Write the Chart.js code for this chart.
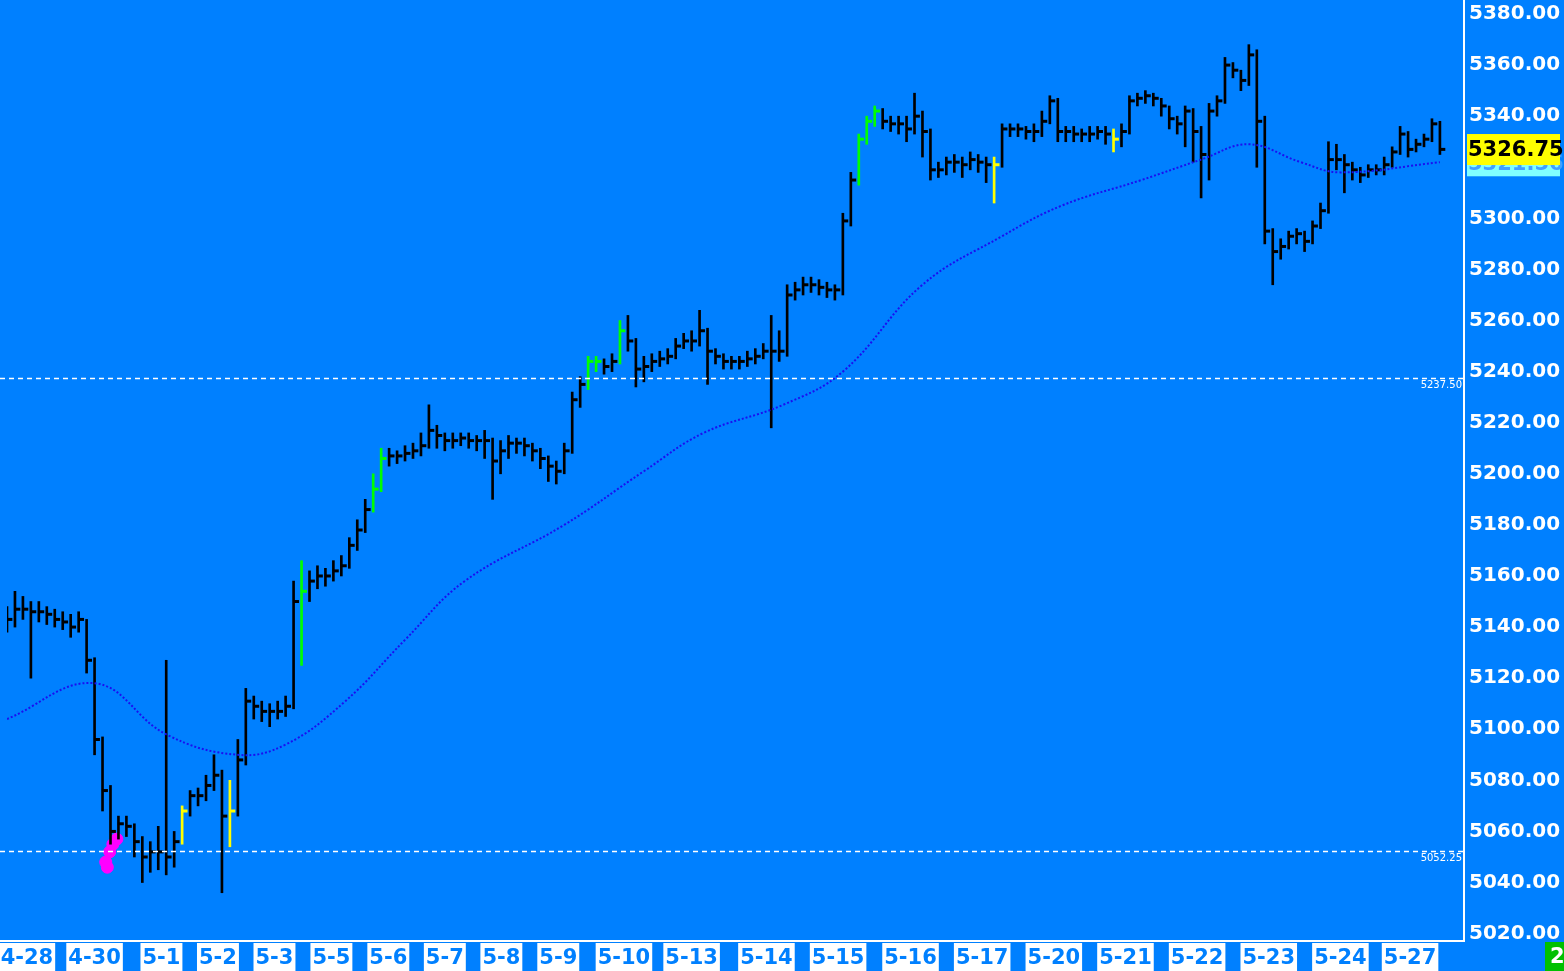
<!DOCTYPE html>
<html><head><meta charset="utf-8">
<script src="https://cdn.jsdelivr.net/npm/chart.js@4.4.1/dist/chart.umd.min.js"></script>
<style>html,body{margin:0;padding:0;background:#0080ff;overflow:hidden}#w{width:1564px;height:971px}</style>
</head><body><div id="w"><canvas id="c"></canvas></div>
<script>
const closes=[5143,5147,5147,5146,5146,5145,5143,5142,5140,5143,5127,5096,5076,5060,5063,5062,5056,5050,5052,5052,5050,5056,5068,5074,5074,5078,5082,5066,5068,5088,5111,5109,5107,5107,5107,5109,5150,5154,5158,5160,5160,5162,5164,5172,5178,5186,5194,5206,5207,5207,5208,5209,5211,5217,5215,5213,5213,5214,5213,5213,5213,5205,5209,5212,5212,5211,5209,5206,5203,5201,5209,5229,5235,5244,5244,5242,5244,5256,5252,5241,5242,5244,5245,5246,5250,5252,5252,5256,5248,5246,5244,5244,5244,5245,5246,5248,5248,5248,5270,5272,5274,5274,5273,5272,5272,5299,5315,5331,5338,5342,5338,5337,5337,5335,5340,5334,5319,5319,5322,5322,5321,5323,5322,5321,5321,5335,5335,5335,5334,5334,5338,5346,5334,5334,5333,5333,5333,5334,5333,5331,5334,5346,5347,5348,5347,5344,5339,5337,5342,5334,5325,5342,5346,5360,5358,5354,5364,5338,5295,5287,5289,5293,5294,5291,5297,5303,5323,5323,5321,5319,5317,5319,5319,5321,5326,5333,5327,5329,5331,5337,5327];
const highs=[5148,5154,5152,5150,5150,5148,5147,5146,5145,5146,5143,5128,5097,5078,5066,5066,5063,5058,5056,5062,5127,5060,5070,5076,5077,5082,5090,5084,5080,5096,5116,5113,5111,5110,5111,5113,5158,5166,5162,5164,5163,5166,5168,5175,5182,5190,5200,5210,5210,5209,5211,5212,5216,5227,5219,5216,5216,5216,5216,5215,5217,5214,5213,5215,5214,5214,5212,5210,5207,5205,5212,5232,5238,5246,5246,5245,5247,5260,5262,5253,5246,5247,5248,5249,5253,5255,5256,5264,5257,5249,5247,5246,5246,5248,5249,5251,5262,5256,5274,5275,5277,5277,5276,5275,5274,5302,5318,5333,5340,5344,5343,5340,5340,5340,5349,5342,5335,5322,5324,5325,5324,5326,5325,5324,5324,5337,5337,5337,5336,5337,5342,5348,5347,5336,5336,5335,5336,5336,5336,5335,5337,5348,5349,5350,5349,5347,5344,5340,5344,5343,5336,5345,5348,5363,5361,5358,5368,5366,5340,5296,5292,5295,5296,5295,5299,5306,5330,5329,5325,5322,5320,5321,5321,5324,5328,5336,5334,5331,5333,5339,5338];
const lows=[5138,5140,5143,5120,5142,5141,5140,5139,5136,5138,5122,5090,5068,5055,5057,5058,5050,5040,5044,5045,5043,5046,5055,5066,5070,5072,5076,5036,5054,5066,5086,5104,5103,5101,5104,5105,5108,5125,5150,5155,5156,5158,5160,5163,5170,5177,5185,5193,5203,5204,5205,5206,5207,5210,5210,5209,5210,5211,5210,5209,5206,5190,5200,5206,5208,5207,5205,5202,5197,5196,5200,5208,5226,5233,5240,5239,5240,5243,5248,5234,5236,5240,5242,5243,5245,5249,5248,5250,5235,5243,5241,5241,5241,5242,5243,5245,5218,5244,5246,5268,5270,5271,5270,5269,5268,5270,5297,5313,5329,5336,5335,5334,5333,5330,5333,5324,5315,5316,5317,5318,5316,5319,5318,5314,5306,5320,5332,5332,5331,5330,5332,5337,5330,5330,5330,5330,5330,5331,5329,5326,5328,5333,5344,5345,5344,5340,5335,5333,5328,5322,5308,5315,5340,5345,5355,5350,5352,5320,5290,5274,5284,5288,5290,5287,5290,5296,5302,5319,5310,5315,5314,5316,5317,5317,5320,5325,5324,5326,5328,5330,5325];
const greenBars=[37,46,47,73,74,77,107,108,109];
const yellowBars=[22,28,124,139];
const maIdx=[0,11,20,29,35,42.5,50,57.5,70,80,87.5,97.5,105,115,125,132.5,142.5,150,156,162.5,167.5,180];
const maVal=[5104,5118,5098,5090,5094,5111,5135,5158,5180,5201,5216,5227,5240,5274,5293,5305,5315,5323,5329,5322,5318,5322];
const dayLabels=['4-28','4-30','5-1','5-2','5-3','5-5','5-6','5-7','5-8','5-9','5-10','5-13','5-14','5-15','5-16','5-17','5-20','5-21','5-22','5-23','5-24','5-27'];
const dayPos=[2.5,11,19.4,26.5,33.6,40.75,47.9,55,62.1,69.25,77.5,86,95.4,104.4,113.5,122.5,131.5,140.5,149.5,158.5,167.5,176.25];
const hLines=[5237.5,5052.25];
const magenta=[[12.4,5048],[12.9,5052],[13.3,5055],[13.8,5057],[12.6,5046]];
const lastPrice=5326.75, maLast=5321.56;

const colFor=i=>greenBars.includes(i)?'#00ff00':(yellowBars.includes(i)?'#ffff00':'#000000');
const rangeData=closes.map((c,i)=>({x:i,y:[lows[i],highs[i]]}));
const closeData=closes.map((c,i)=>({x:i+0.3,y:c}));
const overlay={id:'ov',afterDatasetsDraw(ch){
  const g=ch.ctx,xs=ch.scales.x,ys=ch.scales.y,a=ch.chartArea;
  g.save();
  g.strokeStyle='#ffffff';g.lineWidth=1.5;g.setLineDash([5,4]);
  g.font='10px "DejaVu Sans"';g.fillStyle='#ffffff';g.textAlign='right';g.textBaseline='top';
  hLines.forEach(v=>{const y=Math.round(ys.getPixelForValue(v))+0.5;g.beginPath();g.moveTo(0,y);g.lineTo(a.right,y);g.stroke();g.fillText(v.toFixed(2),a.right-1,y+2);});
  g.setLineDash([]);
  g.strokeStyle='#ffffff';g.lineWidth=2;
  g.beginPath();g.moveTo(a.right+1,0);g.lineTo(a.right+1,a.bottom+1);g.lineTo(0,a.bottom+1);g.stroke();
  g.font='bold 21px "DejaVu Sans"';g.textBaseline='middle';g.textAlign='center';
  dayLabels.forEach((t,i)=>{const x=xs.getPixelForValue(dayPos[i]);const w=g.measureText(t).width+4;
    g.fillStyle='#ffffff';g.fillRect(x-w/2,943,w,28);g.fillStyle='#0080ff';g.fillText(t,x,959);});
  const ym=ys.getPixelForValue(maLast);
  g.fillStyle='#80ffff';g.fillRect(1467,ym-13,93,26);
  g.fillStyle='#40a0ff';g.textAlign='left';g.font='bold 21px "DejaVu Sans"';g.fillText(maLast.toFixed(2),1468,ym+1);
  const yp=ys.getPixelForValue(lastPrice);
  g.fillStyle='#ffff00';g.fillRect(1467,yp-16,93,31);
  g.fillStyle='#000000';g.fillText(lastPrice.toFixed(2),1468,yp+1);
  g.fillStyle='#00c000';g.fillRect(1545,942,19,29);
  g.fillStyle='#ffffff';g.fillText('2',1550,958);
  g.restore();
}};
new Chart(document.getElementById('c'),{
  data:{datasets:[
    {type:'line',data:maIdx.map((x,i)=>({x,y:maVal[i]})),borderColor:'#1a10f0',borderWidth:2,borderDash:[2,2],pointRadius:0,tension:0.4,fill:false},
    {type:'bar',data:rangeData,backgroundColor:closes.map((c,i)=>colFor(i)),barThickness:2,grouped:false},
    {type:'scatter',data:closeData,pointStyle:'line',radius:3,borderWidth:3,borderColor:closes.map((c,i)=>colFor(i))},
    {type:'scatter',data:magenta.map(p=>({x:p[0],y:p[1]})),pointStyle:'circle',radius:6,backgroundColor:'#ff00ff',borderColor:'#ff00ff'}
  ]},
  options:{responsive:true,maintainAspectRatio:false,animation:false,
    layout:{padding:{top:14,bottom:31,left:0,right:0}},
    plugins:{legend:{display:false},tooltip:{enabled:false}},
    scales:{
      x:{type:'linear',min:0,max:182.9,display:false,offset:false},
      y:{position:'right',min:5017.5,max:5380,grid:{display:false,drawTicks:true,tickLength:5,color:'#ffffff'},border:{display:false},
        afterFit:s=>{s.width=101;},
        afterBuildTicks:s=>{s.ticks=[];for(let v=5020;v<=5380;v+=20)s.ticks.push({value:v});},
        ticks:{color:'#ffffff',font:{family:'DejaVu Sans',weight:'bold',size:20},padding:1,callback:v=>v.toFixed(2)}}
    }},
  plugins:[overlay,{id:'bg',beforeDraw(ch){const g=ch.ctx;g.save();g.fillStyle='#0080ff';g.fillRect(0,0,ch.width,ch.height);g.restore();}}]
});
</script></body></html>
